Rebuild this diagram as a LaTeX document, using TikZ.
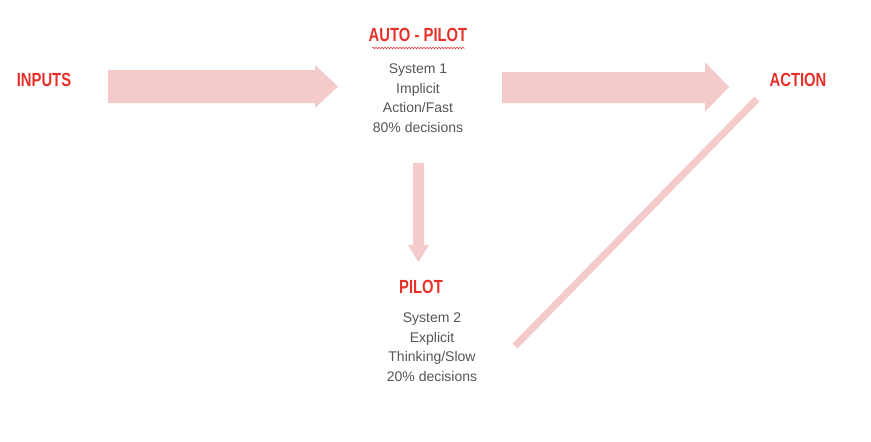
\documentclass[tikz,border=0pt]{standalone}
\usepackage{fontspec}
\setmainfont{Liberation Sans}
\usetikzlibrary{decorations.pathmorphing}
\definecolor{pinkc}{HTML}{F4CACA}
\definecolor{redt}{HTML}{E8302A}
\definecolor{greyt}{HTML}{555555}
\begin{document}
\begin{tikzpicture}[x=1pt,y=-1pt,
  title/.style={text=redt,font=\fontsize{19}{20}\selectfont\bfseries,xscale=0.78,inner sep=0pt},
  body/.style={text=greyt,font=\fontsize{14}{19.5}\selectfont,align=center,inner sep=0pt},
  band/.style={fill=pinkc,draw=none}]
\useasboundingbox (0,0) rectangle (871,442);
\node[title] (inputs) at (44,80) {INPUTS};
\node[title] (auto) at (418,35) {AUTO - PILOT};
\node[title] (action) at (798,80) {ACTION};
\node[title] (pilot) at (421,287) {PILOT};
\node[body] (s1) at (418,98) {System 1\\Implicit\\Action/Fast\\80\% decisions};
\node[body] (s2) at (432,347) {System 2\\Explicit\\Thinking/Slow\\20\% decisions};
\draw[redt,line width=0.5pt,decorate,decoration={snake,amplitude=0.8pt,segment length=3pt}] (372,48) -- (465,48);
\fill[band] (108,70) -- (315,70) -- (315,65) -- (338,86.5) -- (315,108) -- (315,103) -- (108,103) -- cycle;
\fill[band] (502,72) -- (705,72) -- (705,62) -- (729,87) -- (705,112) -- (705,103) -- (502,103) -- cycle;
\fill[band] (413,163) -- (424,163) -- (424,245) -- (429,245) -- (418.5,262) -- (408,245) -- (413,245) -- cycle;
\coordinate (d1) at (515,346);
\coordinate (d2) at (757,99);
\draw[pinkc,line width=7pt] (d1) -- (d2);
\end{tikzpicture}
\end{document}
